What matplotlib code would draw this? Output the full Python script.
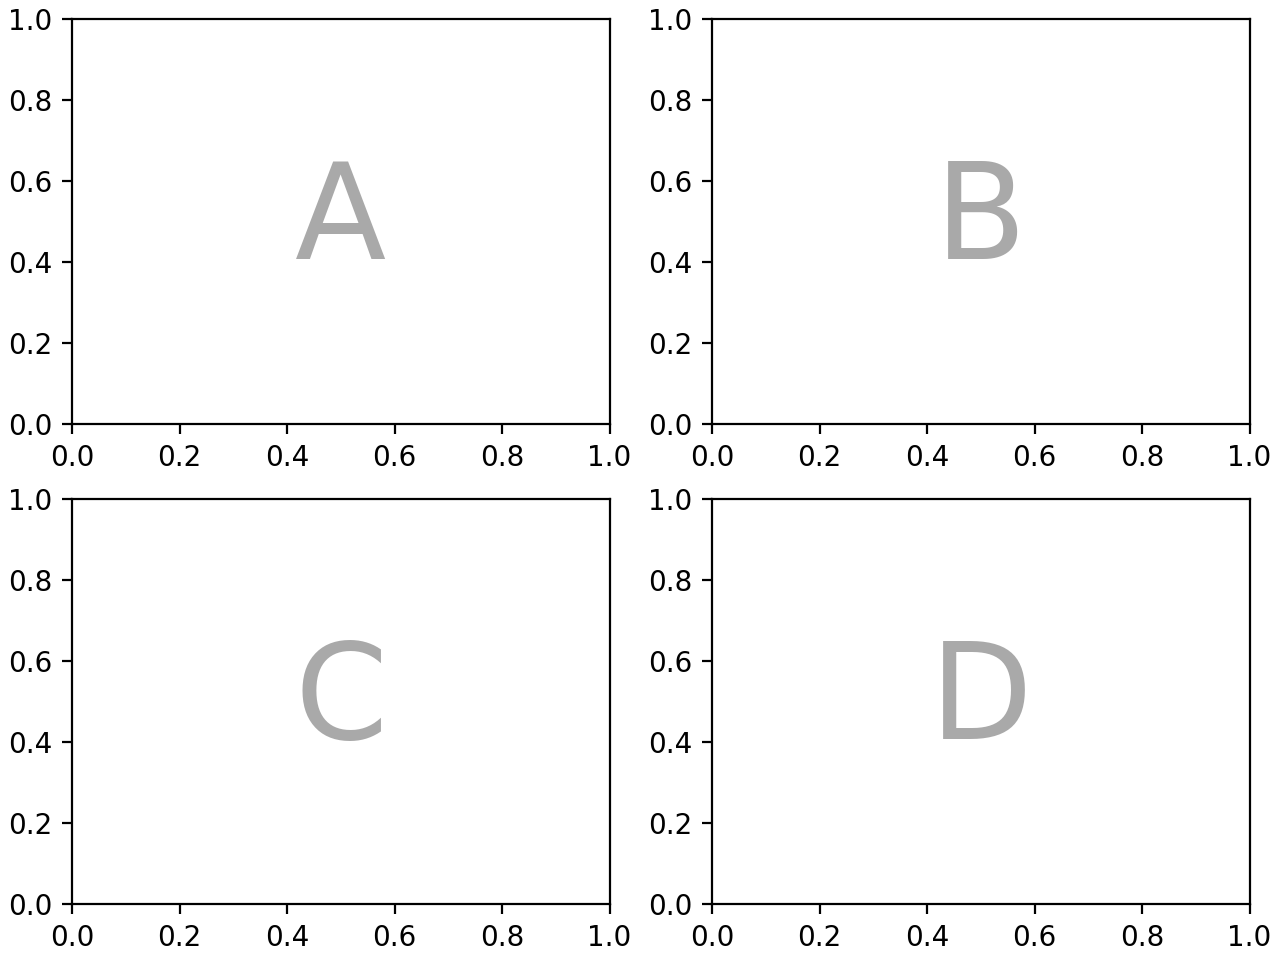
import matplotlib
matplotlib.use("Agg")
import matplotlib.pyplot as plt

labels = ["A", "B", "C", "D"]
mosaic = [["A", "B"], ["C", "D"]]

fig, axd = plt.subplot_mosaic(mosaic, figsize=(6.4, 4.8), dpi=200,
                              layout="constrained")
for k in labels:
    ax = axd[k]
    ax.text(0.5, 0.5, k, transform=ax.transAxes, ha="center", va="center",
            fontsize=48, color="darkgrey")
fig.savefig("out.png", dpi=200)
